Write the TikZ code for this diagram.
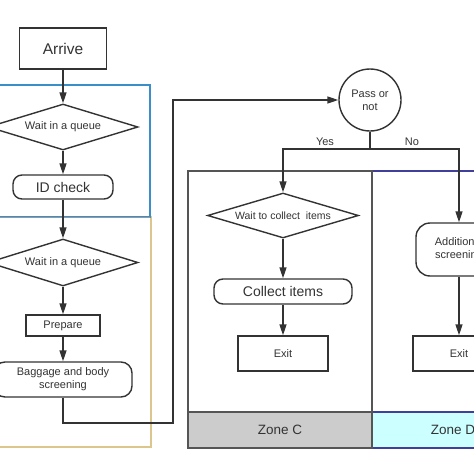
\documentclass[tikz,border=0pt]{standalone}
\usepackage{fontspec}
\setmainfont{Liberation Sans}
\usetikzlibrary{shapes.geometric,arrows.meta}
\definecolor{ink}{HTML}{333333}
\definecolor{blueline}{HTML}{3A8FC8}
\definecolor{tanline}{HTML}{DCC68E}
\definecolor{zonecfill}{HTML}{CCCCCC}
\definecolor{zonecline}{HTML}{555555}
\definecolor{zonedline}{HTML}{40409A}
\definecolor{zonedfill}{HTML}{CCFFFF}
\tikzset{
  box/.style={draw=ink, line width=1.4pt, fill=white, text=ink, inner sep=0pt, align=center},
  rbox/.style={box, rounded corners=9pt},
  dia/.style={box, shape=diamond, aspect=3.3},
  circ/.style={box, shape=circle},
  flow/.style={draw=ink, line width=1.4pt, -{Triangle[length=11pt,width=7pt]}},
  line/.style={draw=ink, line width=1.4pt},
  lbl/.style={text=ink, inner sep=0pt, font=\fontsize{11}{13}\selectfont}
}
\begin{document}
\begin{tikzpicture}[x=1pt,y=-1pt]
\useasboundingbox (0,0) rectangle (474,474);
\clip (0,0) rectangle (474,474);
% lane frames
\draw[tanline, line width=1.2pt] (-5,217) rectangle (151,447);
\draw[blueline, line width=1.3pt] (-5,85) rectangle (150,217);
\draw[gray!80, line width=1pt] (-5,217) -- (150,217);
% zones
\draw[zonedline, line width=1.2pt] (372,171) rectangle (490,448);
\draw[zonedline, line width=1.2pt, fill=zonedfill] (372,412) rectangle (490,448);
\draw[zonecline, line width=1.3pt] (188,171) rectangle (372,448);
\draw[zonecline, line width=1.3pt, fill=zonecfill] (188,412) rectangle (372,448);
\node[lbl, font=\fontsize{13.5}{15}\selectfont] (zc) at (280,430) {Zone C};
\node[lbl, font=\fontsize{13.5}{15}\selectfont] (zd) at (453,430) {Zone D};
% left column
\node[box, minimum width=87pt, minimum height=41pt, font=\fontsize{15.5}{17}\selectfont] (arrive) at (63,48.5) {Arrive};
\node[dia, minimum width=150pt, minimum height=46pt, font=\fontsize{11}{13}\selectfont] (q1) at (63,127) {Wait in a queue};
\node[rbox, minimum width=100pt, minimum height=24pt, font=\fontsize{14}{16}\selectfont] (id) at (63,187) {ID check};
\node[dia, minimum width=150pt, minimum height=47pt, font=\fontsize{11}{13}\selectfont] (q2) at (63,262.5) {Wait in a queue};
\node[box, minimum width=74pt, minimum height=21pt, font=\fontsize{11}{13}\selectfont] (prep) at (63,325.5) {Prepare};
\node[rbox, rounded corners=11pt, minimum width=138pt, minimum height=35pt, font=\fontsize{11}{13}\selectfont] (bag) at (63,379.5) {Baggage and body\\screening};
\draw[flow] (arrive) -- (q1);
\draw[flow] (q1) -- (id);
\draw[flow] (id) -- (q2);
\draw[flow] (q2) -- (prep);
\draw[flow] (prep) -- (bag);
% decision
\node[circ, minimum size=62pt, font=\fontsize{11}{13}\selectfont] (pass) at (370,100) {Pass or\\not};
\coordinate (k1) at (173,423);
\coordinate (k2) at (173,100);
\draw[flow] (bag.south) |- (k1) -- (k2) -- (pass.west);
\coordinate (br) at (370,149);
\draw[line] (pass.south) -- (br);
\node[lbl] (yes) at (325,142) {Yes};
\node[lbl] (no) at (412,142) {No};
% zone C column
\node[dia, minimum width=151pt, minimum height=45pt, font=\fontsize{10.5}{12}\selectfont] (wc) at (283,215.5) {Wait to collect~ items};
\node[rbox, minimum width=138pt, minimum height=25pt, font=\fontsize{14}{16}\selectfont] (coll) at (283,291.5) {Collect items};
\node[box, minimum width=90pt, minimum height=35pt, font=\fontsize{11}{13}\selectfont] (exitc) at (283,353.5) {Exit};
\draw[flow] (br) -| (wc.north);
\draw[flow] (wc) -- (coll);
\draw[flow] (coll) -- (exitc);
% zone D column
\node[rbox, rounded corners=14pt, minimum width=86pt, minimum height=53pt, font=\fontsize{11}{13}\selectfont] (add) at (459,249.5) {Additional\\screening};
\node[box, minimum width=92pt, minimum height=35pt, font=\fontsize{11}{13}\selectfont] (exitd) at (459,353.5) {Exit};
\draw[flow] (br) -| (add.north);
\draw[flow] (add) -- (exitd);
\end{tikzpicture}
\end{document}
